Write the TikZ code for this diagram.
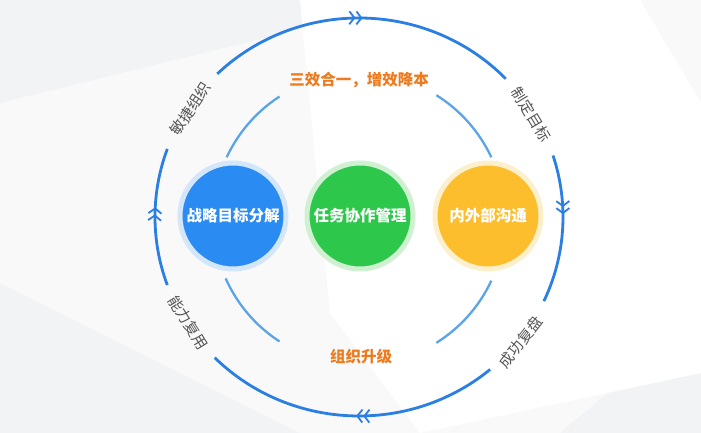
\documentclass[tikz,border=0pt]{standalone}
\usepackage{fontspec}
\setmainfont{Noto Sans CJK SC}
\usetikzlibrary{calc,arrows.meta,decorations.markings}
\definecolor{ringblue}{HTML}{2B7FE3}
\definecolor{innerblue}{HTML}{5CA4E8}
\definecolor{cblue}{HTML}{2A8CF2}
\definecolor{cgreen}{HTML}{2DC84B}
\definecolor{cyellow}{HTML}{FDBE2E}
\definecolor{hblue}{HTML}{D3E6FA}
\definecolor{hgreen}{HTML}{D0F0D2}
\definecolor{hyellow}{HTML}{FCF0CC}
\definecolor{txtorange}{HTML}{EE7A1E}
\definecolor{txtgray}{HTML}{555555}
\definecolor{bgbase}{HTML}{F2F3F5}
\definecolor{bglight}{HTML}{F9F9FA}
\tikzset{
  outer/.style={ringblue,line width=2.8pt},
  inner/.style={innerblue,line width=2.3pt},
  ball/.style={circle,minimum size=106pt,inner sep=0pt,line width=5pt,text=white,
    font=\fontsize{15.5}{18}\selectfont\bfseries},
  tag/.style={txtgray,inner sep=0pt,font=\fontsize{15}{18}\selectfont},
  head/.style={txtorange,inner sep=0pt,font=\fontsize{15.5}{18}\selectfont\bfseries},
  flow/.style={postaction={decorate},decoration={markings,mark=at position #1 with
    {\arrow[ringblue]{Straight Barb[length=5pt,width=13pt,line width=1.8pt] Straight Barb[length=5pt,width=13pt,line width=1.8pt]}}}}
}
\begin{document}
\begin{tikzpicture}[x=1pt,y=1pt]
% background
\fill[bgbase] (0,0) rectangle (701,433);
\fill[bglight] (0,330) -- (420,433) -- (701,433) -- (701,120) -- (560,0) -- (300,0) -- (0,150) -- cycle;
\fill[white] (300,433) -- (640,433) -- (701,330) -- (701,60) -- (420,0) -- (330,120) -- cycle;
\useasboundingbox (0,0) rectangle (701,433);
\coordinate (c) at (359,216);
\coordinate (ci) at (359,214);
% outer cycle, clockwise
\draw[outer,flow=0.5] ($(c)+(134:204 and 199)$) arc[start angle=134,end angle=44,x radius=204,y radius=199];
\draw[outer,flow=0.4] ($(c)+(18:204 and 199)$) arc[start angle=18,end angle=-25,x radius=204,y radius=199];
\draw[outer,flow=0.48] ($(c)+(-50:204 and 199)$) arc[start angle=-50,end angle=-135,x radius=204,y radius=199];
\draw[outer,flow=0.57] ($(c)+(200:204 and 199)$) arc[start angle=200,end angle=160,x radius=204,y radius=199];
% inner ring
\draw[inner] ($(ci)+(155:146)$) arc[start angle=155,end angle=123,radius=146];
\draw[inner] ($(ci)+(58:146)$) arc[start angle=58,end angle=25,radius=146];
\draw[inner] ($(ci)+(-25:146)$) arc[start angle=-25,end angle=-58,radius=146];
\draw[inner] ($(ci)+(237:146)$) arc[start angle=237,end angle=204,radius=146];
% three balls
\node[ball,fill=cblue,draw=hblue] (goal) at (233,217) {战略目标分解};
\node[ball,fill=cgreen,draw=hgreen] (task) at (360,217) {任务协作管理};
\node[ball,fill=cyellow,draw=hyellow] (comm) at (488,217) {内外部沟通};
% captions
\node[head] (top) at (359,353) {三效合一，增效降本};
\node[head] (bottom) at (361,76) {组织升级};
\node[tag,rotate=57] (agile) at ($(c)+(147:201 and 199)$) {敏捷组织};
\node[tag,rotate=-59] (set) at ($(c)+(31:201 and 199)$) {制定目标};
\node[tag,rotate=52] (review) at ($(c)+(-38:205 and 203)$) {成功复盘};
\node[tag,rotate=-58] (reuse) at ($(c)+(-148:201 and 199)$) {能力复用};
\end{tikzpicture}
\end{document}
